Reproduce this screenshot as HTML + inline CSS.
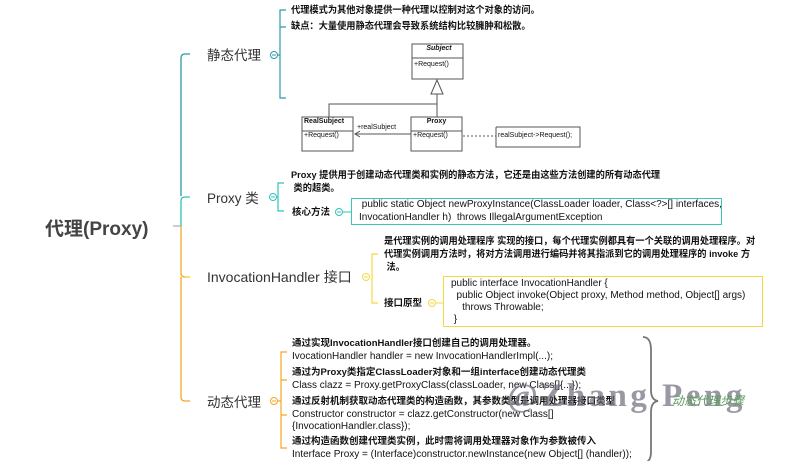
<!DOCTYPE html>
<html><head><meta charset="utf-8"><style>
body{margin:0;width:800px;height:461px;background:#fff;position:relative;overflow:hidden;font-family:"Liberation Sans","Noto Sans CJK SC",sans-serif;}
.t{position:absolute;white-space:nowrap;color:#111;transform-origin:0 0;}
.s{font-size:9.5px;font-weight:bold;line-height:13px;}
.m{font-size:13.5px;color:#333;}
.c{font-size:10px;line-height:12.5px;color:#111;}
.c b{font-size:9.5px;}
.box{position:absolute;box-sizing:border-box;}
</style></head><body>
<svg width="800" height="461" style="position:absolute;left:0;top:0">
<line x1="173" y1="226" x2="181" y2="226" stroke="#999" stroke-width="1"/>
<path d="M190,54 H185 Q181,54 181,58 V196" stroke="#2a9aaa" fill="none" stroke-width="1.3"/>
<path d="M190,197 H185 Q181,197 181,201 V226" stroke="#2ec4b6" fill="none" stroke-width="1.3"/>
<path d="M181,226 V273 Q181,277 185,277 H190" stroke="#f5a623" fill="none" stroke-width="1.3"/>
<path d="M181,277 V397 Q181,401 185,401 H190" stroke="#f5a623" fill="none" stroke-width="1.3"/>
<path d="M190,277 H185" stroke="#f7d842" fill="none" stroke-width="1.3"/>
<!-- static -->
<circle cx="274" cy="55" r="3.5" stroke="#2a9aaa" fill="#fff" stroke-width="1"/>
<line x1="272" y1="55" x2="276" y2="55" stroke="#2a9aaa"/>
<path d="M286,10 H280 V98 H286 M280,27 H286 M278,55 H280" stroke="#2a9aaa" fill="none" stroke-width="1.2"/>
<g stroke="#555" fill="#fff" stroke-width="1">
<rect x="412" y="44" width="51" height="35"/><line x1="412" y1="58" x2="463" y2="58"/>
<polygon points="437,80 431,94 443,94"/>
<polyline points="437,94 437,117" fill="none"/>
<polyline points="329,117 329,104 437,104" fill="none"/>
<rect x="302" y="117" width="51" height="34"/><line x1="302" y1="131" x2="353" y2="131"/>
<rect x="411" y="117" width="51" height="34"/><line x1="411" y1="131" x2="462" y2="131"/>
<line x1="411" y1="134" x2="355" y2="134"/>
<polyline points="360,131 355,134 360,137" fill="none"/>
<line x1="463" y1="136" x2="496" y2="136" stroke-dasharray="2,2"/>
<polyline points="496,127 580,127 580,147 496,147 496,127" fill="#fff"/>
</g>
<!-- proxy -->
<circle cx="273" cy="197" r="3.5" stroke="#2ec4b6" fill="#fff"/>
<line x1="271" y1="197" x2="275" y2="197" stroke="#2ec4b6"/>
<path d="M284,183 H278 V211 H284 M277,197 H278" stroke="#2ec4b6" fill="none" stroke-width="1.2"/>
<circle cx="339" cy="212" r="3.5" stroke="#2ec4b6" fill="#fff"/>
<line x1="337" y1="212" x2="341" y2="212" stroke="#2ec4b6"/>
<line x1="343" y1="212" x2="351" y2="212" stroke="#2ec4b6"/>
<!-- invocation -->
<circle cx="366" cy="277" r="3.5" stroke="#f7d842" fill="#fff"/>
<line x1="364" y1="277" x2="368" y2="277" stroke="#f7d842"/>
<path d="M378,254 H372 V303 H378" stroke="#f7d842" fill="none" stroke-width="1.2"/>
<circle cx="432" cy="303" r="3.5" stroke="#f7d842" fill="#fff"/>
<line x1="430" y1="303" x2="434" y2="303" stroke="#f7d842"/>
<line x1="436" y1="303" x2="443" y2="303" stroke="#f7d842"/>
<!-- dynamic -->
<circle cx="274" cy="401" r="3.5" stroke="#f5a623" fill="#fff"/>
<line x1="272" y1="401" x2="276" y2="401" stroke="#f5a623"/>
<path d="M287,352 H281 V448 H287 M281,380 H287 M281,415 H287 M278,401 H281" stroke="#f5a623" fill="none" stroke-width="1.2"/>
<path d="M643,337 Q651,337 651,350 V390 Q651,400 658,401 Q651,402 651,412 V452 Q651,461 645,463" stroke="#777" fill="none" stroke-width="1.8"/>
</svg>

<div class="t" style="left:45px;top:214px;font-size:19px;font-weight:bold;color:#444">代理(Proxy)</div>
<div class="t m" style="left:207px;top:44px">静态代理</div>
<div class="t m" style="left:207px;top:187px">Proxy 类</div>
<div class="t m" style="left:207px;top:267px;font-size:14px">InvocationHandler 接口</div>
<div class="t m" style="left:207px;top:391px">动态代理</div>

<div class="t s" style="left:291px;top:4px;transform:scaleX(0.97)">代理模式为其他对象提供一种代理以控制对这个对象的访问。</div>
<div class="t s" style="left:291px;top:20px;transform:scaleX(0.97)">缺点：大量使用静态代理会导致系统结构比较臃肿和松散。</div>

<div class="t" style="left:415px;top:45px;font-size:7px;font-weight:bold;font-style:italic;width:48px;text-align:center">Subject</div>
<div class="t" style="left:414px;top:61px;font-size:7px">+Request()</div>
<div class="t" style="left:304px;top:118px;font-size:7px;font-weight:bold">RealSubject</div>
<div class="t" style="left:304px;top:132px;font-size:7px">+Request()</div>
<div class="t" style="left:411px;top:118px;font-size:7px;font-weight:bold;width:51px;text-align:center">Proxy</div>
<div class="t" style="left:413px;top:132px;font-size:7px">+Request()</div>
<div class="t" style="left:357px;top:124px;font-size:7px">+realSubject</div>
<div class="t" style="left:498px;top:132px;font-size:7px">realSubject->Request();</div>

<div class="t s" style="left:291px;top:169px;transform:scaleX(0.97)">Proxy 提供用于创建动态代理类和实例的静态方法，它还是由这些方法创建的所有动态代理<br>&nbsp;类的超类。</div>
<div class="t s" style="left:292px;top:206px">核心方法</div>
<div class="box" style="left:351px;top:198px;width:371px;height:27px;border:1.5px solid #3cc6b8"></div>
<div class="t c" style="left:359px;top:199px;line-height:12.5px">&nbsp;public static Object newProxyInstance(ClassLoader loader, Class&lt;?&gt;[] interfaces,<br>InvocationHandler h)&nbsp; throws IllegalArgumentException</div>

<div class="t s" style="left:384px;top:235px;transform:scaleX(0.97)">是代理实例的调用处理程序 实现的接口，每个代理实例都具有一个关联的调用处理程序。对<br>代理实例调用方法时，将对方法调用进行编码并将其指派到它的调用处理程序的 invoke 方<br>&nbsp;法。</div>
<div class="t s" style="left:384px;top:297px">接口原型</div>
<div class="box" style="left:443px;top:276px;width:320px;height:51px;border:1.5px solid #f5d742"></div>
<div class="t c" style="left:451px;top:278px;line-height:12px;font-size:10px">public interface InvocationHandler {<br>&nbsp; public Object invoke(Object proxy, Method method, Object[] args)<br>&nbsp;&nbsp;&nbsp; throws Throwable;<br>&nbsp;}</div>

<div class="t c" style="left:292px;top:338px"><b>通过实现InvocationHandler接口创建自己的调用处理器。</b><br>IvocationHandler handler = new InvocationHandlerImpl(...);</div>
<div class="t c" style="left:292px;top:367px"><b>通过为Proxy类指定ClassLoader对象和一组interface创建动态代理类</b><br>Class clazz = Proxy.getProxyClass(classLoader, new Class[]{...});</div>
<div class="t c" style="left:292px;top:396px"><b>通过反射机制获取动态代理类的构造函数，其参数类型是调用处理器接口类型</b><br>Constructor constructor = clazz.getConstructor(new Class[]<br>{InvocationHandler.class});</div>
<div class="t c" style="left:292px;top:436px"><b>通过构造函数创建代理类实例，此时需将调用处理器对象作为参数被传入</b><br>Interface Proxy = (Interface)constructor.newInstance(new Object[] (handler));</div>

<div class="t" style="left:507px;top:378px;font-family:'Liberation Serif',serif;font-weight:bold;font-size:33px;color:rgba(110,110,125,0.7);letter-spacing:3.5px">@Zhang Peng</div>
<div class="t" style="left:672px;top:392px;font-size:12px;font-style:italic;color:#5a9a5a">动态代理步骤</div>
</body></html>
